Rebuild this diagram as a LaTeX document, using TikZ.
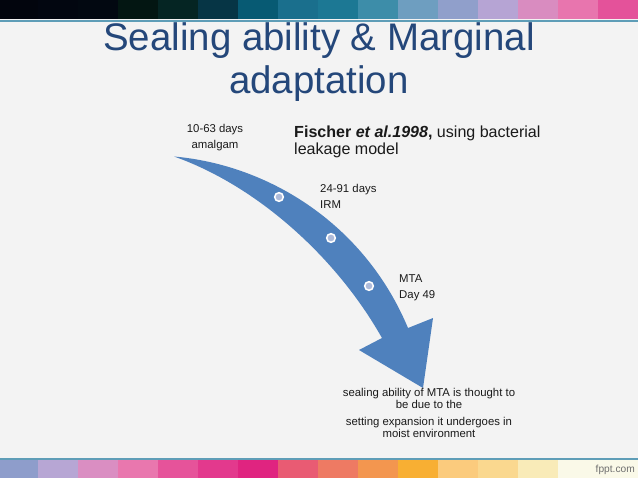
\documentclass[tikz,border=0pt]{standalone}
\usepackage{fontspec}
\setmainfont{Liberation Sans}
\usetikzlibrary{positioning}
\definecolor{slidebg}{HTML}{F3F3F3}
\definecolor{titleblue}{HTML}{24477A}
\definecolor{arrowblue}{HTML}{4F81BD}
\definecolor{dotfill}{HTML}{AEBBDA}
\definecolor{bandline}{HTML}{5E9DB7}
\definecolor{txt}{HTML}{1A1A1A}
\definecolor{fpptgray}{HTML}{6F6F6F}

\begin{document}
\begin{tikzpicture}[x=0.03cm,y=-0.03cm,
    lbl/.style={text=txt,font=\fontsize{9.7}{13.7}\selectfont,inner sep=0pt},
    dot/.style={circle,fill=dotfill,draw=white,line width=1.3pt,minimum size=0.26cm,inner sep=0pt}]
  \useasboundingbox (0,0) rectangle (638,478);
  \fill[slidebg] (0,0) rectangle (638,478);
  % colour bands, top and bottom
  \foreach \c [count=\i from 0] in {02050D,020610,020811,031612,052523,063545,075A73,1A6F8D,1C7894,3D8DA9,6E9EC0,909FCB,B6A4D4,D98CC0,E875AE,E4529A}{
    \definecolor{bandc}{HTML}{\c}
    \fill[bandc] (40*\i-2,0) rectangle (40*\i+38,19);
    \draw[white,opacity=0.5,line width=0.5pt] (40*\i+38,0) -- (40*\i+38,19);
  }
  \foreach \c [count=\i from 0] in {8E9DCB,B7A6D4,DA8EC2,E977AE,E6539A,E3398D,E02480,E95B73,EE7A63,F3964F,F8AF33,FBCB7D,FAD88F,F9EBB8,FAF9E8,FAF9E8}{
    \definecolor{bandc}{HTML}{\c}
    \fill[bandc] (40*\i-2,460) rectangle (40*\i+38,478);
    \draw[white,opacity=0.6,line width=0.5pt] (40*\i+38,460) -- (40*\i+38,478);
  }
  \fill[bandline] (0,20.5) rectangle (638,22.5);
  \fill[bandline] (0,457.5) rectangle (638,459.5);
  \node[font=\fontsize{8.7}{10}\selectfont,text=fpptgray,anchor=base east,inner sep=0pt] (fppt) at (635,472.5) {fppt.com};

  \node[font=\fontsize{32.8}{36.7}\selectfont,text=titleblue,align=center,anchor=base,inner sep=0pt] (title) at (319,93.5) {Sealing ability \& Marginal\\adaptation};

  % curved arrow
  \coordinate (tail) at (174,156.5);
  \coordinate (rnotch) at (408,328);
  \coordinate (lnotch) at (382,338);
  \coordinate (tip) at (423,388);
  \fill[arrowblue] (tail) .. controls (270,165) and (365,225) .. (rnotch) -- (433,318) -- (tip) -- (359,350) -- (lnotch) .. controls (335,255) and (255,185) .. (tail) -- cycle;
  \node[dot] (d1) at (279,197) {};
  \node[dot] (d2) at (331,238) {};
  \node[dot] (d3) at (369,286) {};

  \node[lbl,align=center,anchor=base] (amalgam) at (215,148.5) {10-63 days\\amalgam};
  \node[lbl,align=left,anchor=base west] (irm) at (320,208.3) {24-91 days\\IRM};
  \node[lbl,align=left,anchor=base west] (mta) at (399,298.3) {MTA\\Day 49};
  \node[text=txt,font=\fontsize{13.7}{14.5}\selectfont,align=left,anchor=base west,inner sep=0pt] (fischer) at (294,154) {\textbf{Fischer \textit{et al.1998},} using bacterial\\leakage model};
  \node[lbl,font=\fontsize{9.7}{10.2}\selectfont,align=center,anchor=base] (note) at (429,437) {sealing ability of MTA is thought to\\be due to the\\[4.3pt]setting expansion it undergoes in\\moist environment};
\end{tikzpicture}
\end{document}
